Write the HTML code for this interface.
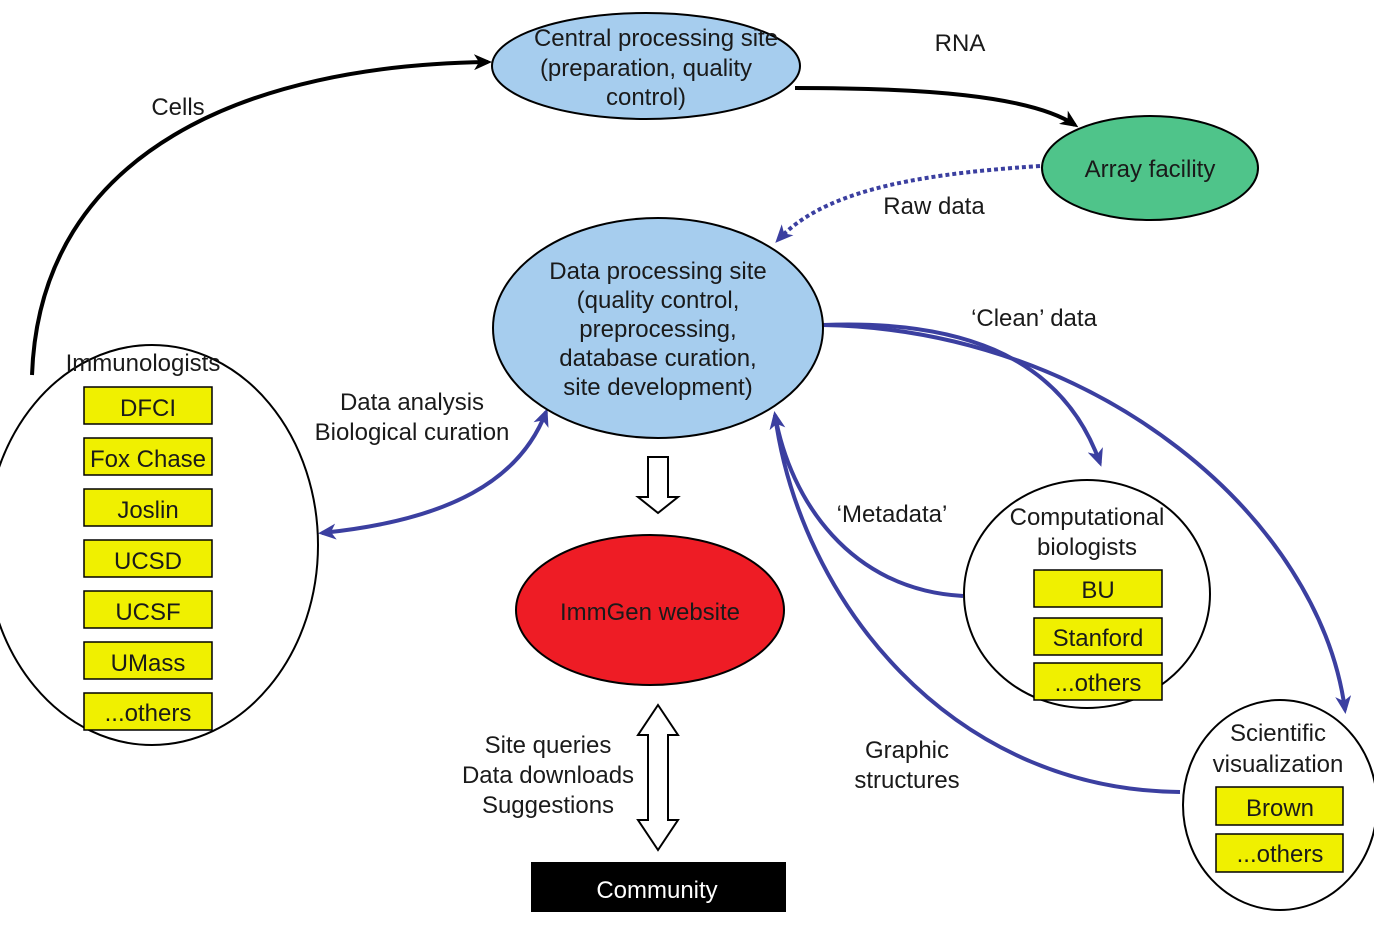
<!DOCTYPE html>
<html><head><meta charset="utf-8"><style>
html,body{margin:0;padding:0;background:#fff;}
svg{display:block;font-family:"Liberation Sans",sans-serif;}
text{font-size:24px;fill:#1a1a1a;text-anchor:middle;}
</style></head><body>
<svg width="1374" height="932" viewBox="0 0 1374 932">
<defs>
<marker id="ab" markerWidth="18" markerHeight="16" refX="14" refY="8" orient="auto" markerUnits="userSpaceOnUse" viewBox="0 0 18 16"><path d="M0,0 L18,8 L0,16 L5,8 z" fill="#000"/></marker>
<marker id="au" markerWidth="18" markerHeight="16" refX="14" refY="8" orient="auto" markerUnits="userSpaceOnUse" viewBox="0 0 18 16"><path d="M0,0 L18,8 L0,16 L5,8 z" fill="#3b3fa0"/></marker>
<marker id="aus" markerWidth="18" markerHeight="16" refX="4" refY="8" orient="auto" markerUnits="userSpaceOnUse" viewBox="0 0 18 16"><path d="M18,0 L0,8 L18,16 L13,8 z" fill="#3b3fa0"/></marker>
</defs>
<g stroke="#000" stroke-width="4" fill="none">
<path d="M32,375 C40,150 250,65 488,62" marker-end="url(#ab)"/>
<path d="M795,88 C920,88 1030,95 1075,125" marker-end="url(#ab)"/>
</g>
<g stroke="#3b3fa0" stroke-width="4" fill="none">
<path d="M1040,166 C900,175 820,195 778,240" stroke-dasharray="4,3" marker-end="url(#au)"/>
<path d="M322,533 C450,520 520,480 546,412" marker-end="url(#au)" marker-start="url(#aus)"/>
<path d="M823,325 C950,320 1060,350 1100,463" marker-end="url(#au)"/>
<path d="M823,325 C1100,330 1320,520 1345,710" marker-end="url(#au)"/>
<path d="M963,596 C850,590 790,500 775,415" marker-end="url(#au)"/>
<path d="M1180,792 C950,790 800,600 775,415"/>
</g>
<ellipse cx="646" cy="66" rx="154" ry="53" fill="#a6cdee" stroke="#000" stroke-width="2"/>
<ellipse cx="1150" cy="168" rx="108" ry="52" fill="#4fc48a" stroke="#000" stroke-width="2"/>
<ellipse cx="658" cy="328" rx="165" ry="110" fill="#a6cdee" stroke="#000" stroke-width="2"/>
<ellipse cx="650" cy="610" rx="134" ry="75" fill="#ee1c25" stroke="#000" stroke-width="2"/>
<rect x="531" y="862" width="255" height="50" fill="#000"/>
<ellipse cx="152" cy="545" rx="166" ry="200" fill="#fff" stroke="#000" stroke-width="2"/>
<ellipse cx="1087" cy="594" rx="123" ry="114" fill="#fff" stroke="#000" stroke-width="2"/>
<ellipse cx="1280" cy="805" rx="97" ry="105" fill="#fff" stroke="#000" stroke-width="2"/>
<path d="M648,457 H668 V497 H678 L658,513 L638,497 H648 Z" fill="#fff" stroke="#000" stroke-width="2"/>
<path d="M658,705 L678,735 H668 V820 H678 L658,850 L638,820 H648 V735 H638 Z" fill="#fff" stroke="#000" stroke-width="2"/>
<g fill="#f0f000" stroke="#000" stroke-width="1.5">
<rect x="84" y="387" width="128" height="37"/><rect x="84" y="438" width="128" height="37"/>
<rect x="84" y="489" width="128" height="37"/><rect x="84" y="540" width="128" height="37"/>
<rect x="84" y="591" width="128" height="37"/><rect x="84" y="642" width="128" height="37"/>
<rect x="84" y="693" width="128" height="37"/>
<rect x="1034" y="570" width="128" height="37"/><rect x="1034" y="618" width="128" height="37"/>
<rect x="1034" y="663" width="128" height="37"/>
<rect x="1216" y="787" width="127" height="38"/><rect x="1216" y="834" width="127" height="38"/>
</g>
<text x="656" y="46">Central processing site</text>
<text x="646" y="76">(preparation, quality</text>
<text x="646" y="105">control)</text>
<text x="960" y="51">RNA</text>
<text x="178" y="115">Cells</text>
<text x="1150" y="177">Array facility</text>
<text x="934" y="214">Raw data</text>
<text x="658" y="279">Data processing site</text>
<text x="658" y="308">(quality control,</text>
<text x="658" y="337">preprocessing,</text>
<text x="658" y="366">database curation,</text>
<text x="658" y="395">site development)</text>
<text x="1034" y="326">‘Clean’ data</text>
<text x="412" y="410">Data analysis</text>
<text x="412" y="440">Biological curation</text>
<text x="143" y="371">Immunologists</text>
<text x="148" y="416">DFCI</text><text x="148" y="467">Fox Chase</text>
<text x="148" y="518">Joslin</text><text x="148" y="569">UCSD</text>
<text x="148" y="620">UCSF</text><text x="148" y="671">UMass</text>
<text x="148" y="721">...others</text>
<text x="892" y="522">‘Metadata’</text>
<text x="1087" y="525">Computational</text>
<text x="1087" y="555">biologists</text>
<text x="1098" y="598">BU</text><text x="1098" y="646">Stanford</text><text x="1098" y="691">...others</text>
<text x="650" y="620">ImmGen website</text>
<text x="548" y="753">Site queries</text>
<text x="548" y="783">Data downloads</text>
<text x="548" y="813">Suggestions</text>
<text x="907" y="758">Graphic</text>
<text x="907" y="788">structures</text>
<text x="1278" y="741">Scientific</text>
<text x="1278" y="772">visualization</text>
<text x="1280" y="816">Brown</text><text x="1280" y="862">...others</text>
<text x="657" y="898" style="fill:#fff">Community</text>
</svg>
</body></html>
